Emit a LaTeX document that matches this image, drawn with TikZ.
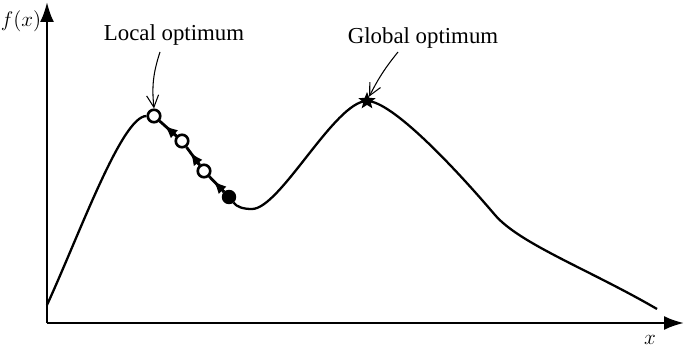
\documentclass[tikz,border=0pt]{standalone}
\usepackage{fontspec}
\setmainfont{Liberation Serif}
\usetikzlibrary{arrows.meta,calc,shapes.geometric}
\tikzset{
  axis/.style={line width=1.4pt, -{Latex[length=4mm, width=2.8mm]}},
  curve/.style={line width=1.3pt},
  openpt/.style={circle, draw, line width=1.5pt, fill=white, minimum size=0.25cm, inner sep=0pt},
  fillpt/.style={circle, draw, line width=1.1pt, fill=black, minimum size=0.25cm, inner sep=0pt},
  bestpt/.style={star, star points=5, star point ratio=2.3, fill=black, minimum size=0.36cm, inner sep=0pt},
  hopline/.style={line width=1.6pt},
  hoptip/.style={line width=1.6pt, -{Latex[length=2.6mm, width=2.2mm]}},
  annot/.style={line width=0.6pt, -{Straight Barb[length=2.4mm, width=2.4mm]}},
  lab/.style={font=\fontsize{13}{15}\selectfont}
}
\begin{document}
\begin{tikzpicture}[x=0.02cm, y=0.02cm]
\useasboundingbox (0,0) rectangle (685,348);

% axes
\coordinate (orig) at (47,25);
\coordinate (xend) at (684,25);
\coordinate (yend) at (47,346);
\draw[axis] (orig) -- (xend);
\draw[axis] (orig) -- (yend);
\node[font=\fontsize{12.5}{14}\selectfont] (fx) at (21,327) {$f(x)$};
\node[font=\fontsize{12.5}{14}\selectfont] (xx) at (650,8) {$x$};

% search steps
\node[fillpt] (start) at (229,151) {};
\node[openpt] (s3) at (204,177) {};
\node[openpt] (s2) at (182,207) {};
\node[openpt] (loc) at (154,232) {};
\node[bestpt] (glob) at (367,247) {};

% the function
\draw[curve] (47,43) .. controls (80,115) and (122,232) .. (loc);
\draw[curve] (start) .. controls (237,141) and (243,139) .. (252,139)
  .. controls (280,139) and (335,247) .. (glob.center)
  .. controls (392,247) and (455,180) .. (495,133)
  .. controls (520,104) and (590,78) .. (657,39);

\draw[hopline] (start) -- (s3) -- (s2) -- (loc);
\draw[hoptip] (start) -- ($(start)!0.62!(s3)$);
\draw[hoptip] (s3) -- ($(s3)!0.62!(s2)$);
\draw[hoptip] (s2) -- ($(s2)!0.62!(loc)$);

% labels
\node[lab] (loclab) at (174,313) {Local optimum};
\node[lab] (globlab) at (423,310) {Global optimum};
\coordinate (locfrom) at (160,296);
\coordinate (globfrom) at (398,296);
\draw[annot] (locfrom) to[bend right=12] (loc.north);
\draw[annot] (globfrom) to[bend right=6] (glob);
\end{tikzpicture}
\end{document}
